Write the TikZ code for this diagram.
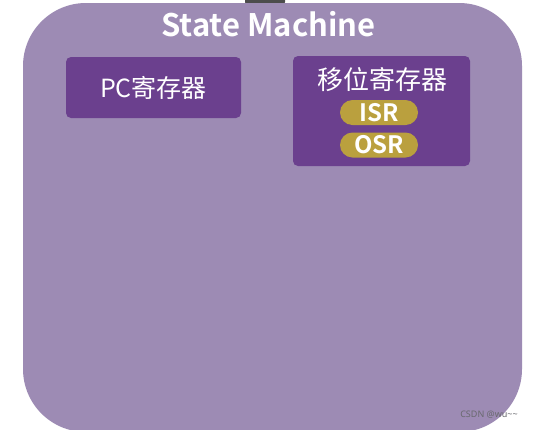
\documentclass[tikz,border=0pt]{standalone}
\usepackage{fontspec}
\setmainfont{Noto Sans}
\newfontfamily\cjk{Noto Sans CJK SC}[BoldFont={Noto Sans CJK SC Bold}]
\newfontfamily\cjkbold{Noto Sans CJK SC Bold}
\definecolor{smbg}{RGB}{157,139,180}
\definecolor{regbox}{RGB}{107,64,142}
\definecolor{pill}{RGB}{186,160,62}
\definecolor{markgray}{RGB}{105,105,110}
\tikzset{
  regnode/.style={fill=regbox, rounded corners=5pt, inner sep=0pt},
  pillnode/.style={fill=pill, rounded corners=12.5pt, minimum width=78pt, minimum height=25pt, inner sep=0pt, text=white, font=\cjkbold\fontsize{24}{24}\selectfont},
  cjktext/.style={text=white, inner sep=0pt, font=\cjk\fontsize{25}{25}\selectfont}
}
\begin{document}
\begin{tikzpicture}[x=1pt,y=-1pt]
\useasboundingbox (0,0) rectangle (535,429);
\fill[white] (0,0) rectangle (535,429);
% top artifact
\fill[black!70, rounded corners=2pt] (245,-3) rectangle (285,4);
% state machine body
\fill[smbg, rounded corners=63pt] (23,3) rectangle (522,432);
\node (title) [text=white, inner sep=0pt, font=\cjkbold\fontsize{31}{31}\selectfont] at (268.5,24) {State Machine};
% PC register
\node (pc) [regnode, minimum width=175pt, minimum height=61pt] at (153.5,87.5) {};
\node (pctext) [cjktext] at (pc.center) {PC寄存器};
% shift register
\node (sr) [regnode, minimum width=177pt, minimum height=110pt] at (381.5,111) {};
\node (srtext) [cjktext, font=\cjk\fontsize{26}{26}\selectfont] at (382,80) {移位寄存器};
\node (isr) [pillnode] at (379,112.5) {ISR};
\node (osr) [pillnode] at (379,145) {OSR};
% watermark
\node (wm) [text=markgray, inner sep=0pt, font=\fontsize{9}{9}\selectfont] at (489,415) {CSDN @wu\textasciitilde\textasciitilde};
\end{tikzpicture}
\end{document}
